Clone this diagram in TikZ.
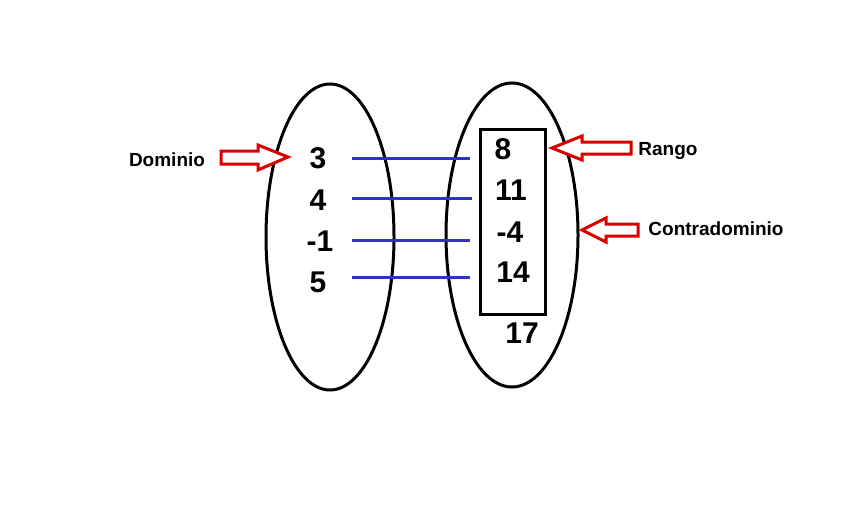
\documentclass[tikz,border=0pt]{standalone}
\usepackage{fontspec}
\setmainfont{Liberation Sans}
\begin{document}
\begin{tikzpicture}[x=1pt,y=-1pt,
  num/.style={font=\fontsize{30}{30}\selectfont\bfseries,inner sep=0pt},
  lab/.style={font=\fontsize{19}{20}\selectfont\bfseries,inner sep=0pt},
  link/.style={draw=blue!65!black!80!white,line width=3pt},
  oval/.style={draw,line width=3pt},
  barrow/.style={draw=red!85!black,fill=white,line width=3pt,line join=miter}]
\useasboundingbox (0,0) rectangle (842,508);
\fill[white] (0,0) rectangle (842,508);
\draw[oval] (330,237) ellipse [x radius=64,y radius=153];
\draw[oval] (512,235) ellipse [x radius=66,y radius=152];
\draw[line width=3pt] (480,129) rectangle (545,314);
\node[num] (a1) at (318,158) {3};
\node[num] (a2) at (318,200) {4};
\node[num] (a3) at (320,241) {-1};
\node[num] (a4) at (318,282) {5};
\node[num] (b1) at (503,149) {8};
\node[num] (b2) at (511,190) {11};
\node[num] (b3) at (510,232) {-4};
\node[num] (b4) at (513,272) {14};
\node[num] (b5) at (522,333) {17};
\coordinate (l1) at (352,158); \coordinate (r1) at (470,158);
\coordinate (l2) at (352,198); \coordinate (r2) at (472,198);
\coordinate (l3) at (352,240); \coordinate (r3) at (470,240);
\coordinate (l4) at (352,277); \coordinate (r4) at (470,277);
\draw[link] (l1)--(r1); \draw[link] (l2)--(r2); \draw[link] (l3)--(r3); \draw[link] (l4)--(r4);
\draw[barrow] (221,151)--(258,151)--(258,145)--(288,157)--(258,170)--(258,164)--(221,164)--cycle;
\draw[barrow] (631,142)--(582,142)--(582,136)--(552,148)--(582,160)--(582,154)--(631,154)--cycle;
\draw[barrow] (638,224)--(606,224)--(606,218)--(582,230)--(606,242)--(606,236)--(638,236)--cycle;
\node[lab] (ld) at (167,160) {Dominio};
\node[lab] (lr) at (668,151) {Rango};
\node[lab] (lc) at (716,229) {Contradominio};
\end{tikzpicture}
\end{document}
